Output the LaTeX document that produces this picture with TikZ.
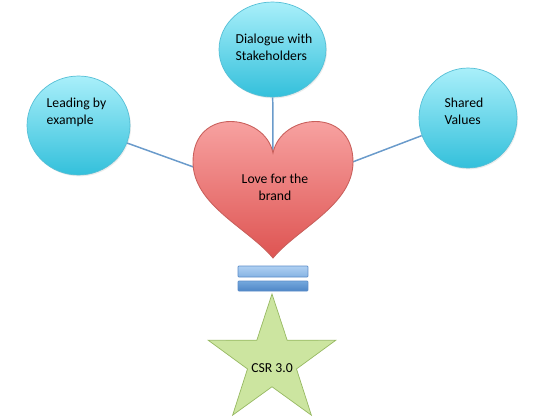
\documentclass[tikz,border=0pt]{standalone}
\usepackage{fontspec}
\setmainfont{Carlito}
\usetikzlibrary{shapes.geometric, backgrounds, shadows}
\definecolor{csrCyanTop}{HTML}{A9EFFA}
\definecolor{csrCyanBot}{HTML}{33C0DB}
\definecolor{csrCyanLine}{HTML}{55BFD6}
\definecolor{csrHeartTop}{HTML}{FAAAA9}
\definecolor{csrHeartBot}{HTML}{DE5452}
\definecolor{csrHeartLine}{HTML}{C9605C}
\definecolor{csrLink}{HTML}{6A9BCB}
\definecolor{csrBarTop}{HTML}{AFD0F2}
\definecolor{csrBarMid}{HTML}{86B3E3}
\definecolor{csrBarLow}{HTML}{75A8DD}
\definecolor{csrBarBot}{HTML}{4E86C6}
\definecolor{csrBarLine}{HTML}{5B8CC8}
\definecolor{csrStar}{HTML}{CCE5A0}
\definecolor{csrStarLine}{HTML}{97B962}

\tikzset{
  bubble/.style={ellipse, draw=csrCyanLine, top color=csrCyanTop,
                 bottom color=csrCyanBot, inner sep=0pt,
                 drop shadow={opacity=0.15, shadow xshift=0.6pt, shadow yshift=-0.8pt}},
  bubbletext/.style={font=\fontsize{7.8}{9.6}\selectfont, align=left, inner sep=0pt},
  link/.style={draw=csrLink, line width=0.85pt},
  bar/.style={rectangle, draw=csrBarLine, line width=0.4pt, rounded corners=0.5pt,
              minimum width=1.4cm, inner sep=0pt},
  starbox/.style={star, star points=5, star point ratio=2.6, draw=csrStarLine,
                  fill=csrStar, minimum size=2.68cm, inner sep=0pt}
}

\begin{document}
\begin{tikzpicture}[x=0.02cm, y=-0.02cm]
  \useasboundingbox (0,0) rectangle (549,420);

  % the three bubbles
  \node[bubble, minimum width=2.06cm, minimum height=1.98cm,
        label={[bubbletext, xshift=-0.04cm, yshift=0.27cm]center:{Leading by\\example}}]
    (lead) at (78.5,125.5) {};
  \node[bubble, minimum width=2.14cm, minimum height=1.9cm,
        label={[bubbletext, xshift=0.03cm, yshift=0.05cm]center:{Dialogue with\\Stakeholders}}]
    (dialogue) at (272.5,49.5) {};
  \node[bubble, minimum width=1.96cm, minimum height=2.0cm,
        label={[bubbletext, xshift=-0.08cm, yshift=0.14cm]center:{Shared\\Values}}]
    (shared) at (468,118) {};

  % heart
  \path[draw=csrHeartLine, line width=0.5pt, top color=csrHeartTop, bottom color=csrHeartBot]
    (273,153) .. controls (281,113) and (353,106) .. (353,162)
    .. controls (353,205) and (298,228) .. (273,258)
    .. controls (248,228) and (193,205) .. (193,162)
    .. controls (193,106) and (265,113) .. (273,153) -- cycle;
  \node[bubbletext, align=center] (brand) at (275,187) {Love for the\\brand};
  \coordinate (brandL) at (193.5,167);
  \coordinate (brandT) at (273,153);
  \coordinate (brandR) at (352.5,162);

  % equals sign
  \node[bar, minimum height=0.22cm, top color=csrBarTop, bottom color=csrBarMid]
    (eqtop) at (273,271.5) {};
  \node[bar, minimum height=0.2cm, top color=csrBarLow, bottom color=csrBarBot]
    (eqbot) at (273,286) {};

  % star
  \node[starbox, label={[bubbletext, yshift=-0.14cm]center:CSR 3.0}] (csr) at (272,361) {};

  \begin{scope}[on background layer]
    \draw[link] (lead) -- (brandL);
    \draw[link] (dialogue) -- (brandT);
    \draw[link] (shared) -- (brandR);
  \end{scope}
\end{tikzpicture}
\end{document}
